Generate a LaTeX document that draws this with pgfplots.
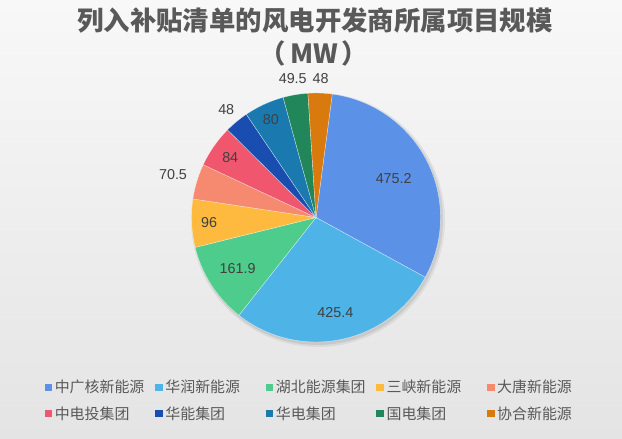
\documentclass[border=0pt]{standalone}
\usepackage{pgfplots}
\pgfplotsset{compat=1.18}
\usepackage{pgfplotstable}
\usepackage{fontspec}
\setmainfont{Liberation Sans}
\newfontfamily\cjk{Noto Sans CJK SC}
\definecolor{c1}{RGB}{92,145,232}
\definecolor{c2}{RGB}{78,180,232}
\definecolor{c3}{RGB}{78,204,140}
\definecolor{c4}{RGB}{253,186,63}
\definecolor{c5}{RGB}{245,138,112}
\definecolor{c6}{RGB}{240,86,110}
\definecolor{c7}{RGB}{26,77,176}
\definecolor{c8}{RGB}{26,122,176}
\definecolor{c9}{RGB}{33,135,90}
\definecolor{c10}{RGB}{217,122,15}
\definecolor{titlegray}{RGB}{89,89,89}
\definecolor{legendgray}{RGB}{89,89,89}
\definecolor{labelgray}{RGB}{64,64,64}
\definecolor{bgtop}{RGB}{248,248,248}
\definecolor{bgbot}{RGB}{228,228,228}
\pgfplotstableread{
value col lf  name
475.2 c1  0.70 中广核新能源
425.4 c2  0.78 华润新能源
161.9 c3  0.75 湖北能源集团
96    c4  0.86 三峡新能源
70.5  c5  1.20 大唐新能源
84    c6  0.84 中电投集团
48    c7  1.13 华能集团
80    c8  0.87 华电集团
49.5  c9  1.13 国电集团
48    c10 1.12 协合新能源
}\piedata
\def\total{0}
\pgfplotsinvokeforeach{0,...,9}{%
  \pgfplotstablegetelem{#1}{value}\of\piedata
  \pgfmathsetmacro\tmpsum{\total+\pgfplotsretval}%
  \xdef\total{\tmpsum}%
}
\def\cx{316}
\def\cy{221.5}
\def\rr{124.5}
\newcommand\labelfont{\fontsize{14.4}{16}\selectfont}
\begin{document}
\begin{tikzpicture}
\begin{axis}[
  width=622bp, height=439bp, scale only axis,
  xmin=0, xmax=622, ymin=0, ymax=439,
  axis line style={draw=none}, ticks=none,
  axis background/.style={top color=bgtop, bottom color=bgbot},
  clip=false,
  legend columns=5,
  legend cell align=left,
  legend style={at={(0.0715,0.140)}, anchor=north west, draw=none, fill=none,
    inner sep=0pt, row sep=7bp, column sep=0pt,
    font=\cjk\fontsize{15}{16}\selectfont, text=legendgray,
    nodes={inner sep=2.5bp}},
  legend image code/.code={\path[#1, draw=none] (0bp,-3.8bp) rectangle (7.6bp,3.8bp);},
]
\addplot[forget plot, fill=black, fill opacity=0.06, draw=none, domain=0:360, samples=120] ({\cx+2+127*cos(x)},{\cy-2.5+127*sin(x)}) -- cycle;
\addplot[forget plot, fill=black, fill opacity=0.08, draw=none, domain=0:360, samples=120] ({\cx+1.5+125.5*cos(x)},{\cy-2+125.5*sin(x)}) -- cycle;
\xdef\cum{82.5}
\pgfplotsinvokeforeach{0,...,9}{%
  \pgfplotstablegetelem{#1}{value}\of\piedata \let\pval\pgfplotsretval
  \pgfplotstablegetelem{#1}{col}\of\piedata \let\pcol\pgfplotsretval
  \pgfplotstablegetelem{#1}{lf}\of\piedata \let\pfac\pgfplotsretval
  \pgfplotstablegetelem{#1}{name}\of\piedata \let\pname\pgfplotsretval
  \pgfmathsetmacro\pa{\cum}%
  \pgfmathsetmacro\pb{\cum-\pval/\total*360}%
  \pgfmathsetmacro\pmid{(\pa+\pb)/2}%
  \pgfmathsetmacro\lx{\cx+\rr*\pfac*cos(\pmid)}%
  \pgfmathsetmacro\ly{\cy+\rr*\pfac*sin(\pmid)}%
  \edef\temp{%
    \noexpand\addplot[fill=\pcol, draw=white, draw opacity=0.6, line width=0.4pt, domain=\pb:\pa, samples=60, variable=\noexpand\tt]
      ({\cx+\rr*cos(\noexpand\tt)},{\cy+\rr*sin(\noexpand\tt)}) -- (axis cs:\cx,\cy) -- cycle;
    \noexpand\addlegendentry{\noexpand\makebox[98bp][l]{\pname}}
    \noexpand\node[font=\noexpand\labelfont, text=labelgray] at (axis cs:\lx,\ly) {\pval};
  }%
  \temp
  \xdef\cum{\pb}%
}
\node[font=\cjk\bfseries\fontsize{26.5}{30}\selectfont, text=titlegray] at (axis cs:315,419) {列入补贴清单的风电开发商所属项目规模};
\node[font=\cjk\bfseries\fontsize{26.5}{30}\selectfont, text=titlegray] at (axis cs:314,386) {（\hspace{4bp}MW\hspace{4bp}）};
\end{axis}
\end{tikzpicture}
\end{document}
